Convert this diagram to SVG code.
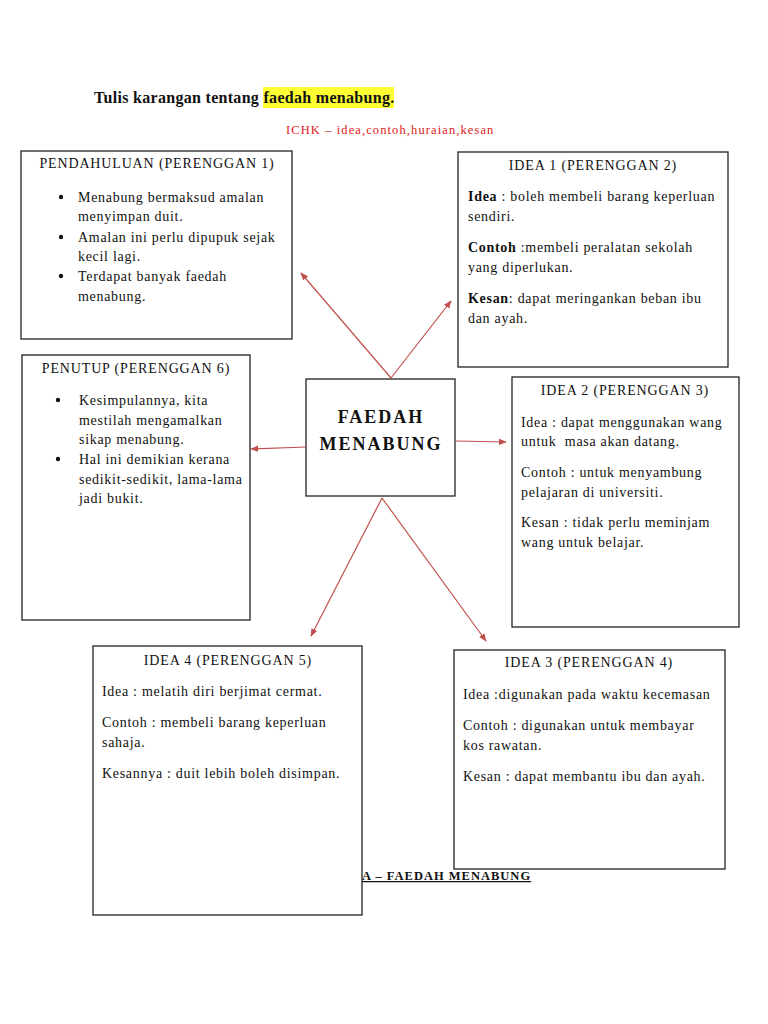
<svg xmlns="http://www.w3.org/2000/svg" width="768" height="1024" viewBox="0 0 768 1024">
<defs>
<style>
text{font-family:"Liberation Serif","Times New Roman",serif;fill:#111}
.b{font-size:14px;letter-spacing:0.7px}
.h{font-size:14px;letter-spacing:0.85px;text-anchor:middle}
.bold{font-weight:bold}
.box{fill:#fff;stroke:#222;stroke-width:1.3}
.con{stroke:#c0504d;stroke-width:1.2;fill:none;marker-end:url(#ah)}
</style>
<marker id="ah" viewBox="0 0 10 10" refX="9" refY="5" markerWidth="8" markerHeight="8" markerUnits="userSpaceOnUse" orient="auto">
<path d="M0,1 L10,5 L0,9 z" fill="#c0504d"/>
</marker>
</defs>
<rect width="768" height="1024" fill="#fff"/>
<rect x="263" y="87" width="131" height="21" fill="#ffff33"/>
<text x="94" y="103" style="font-size:16px;font-weight:bold;letter-spacing:0.3px">Tulis karangan tentang faedah menabung.</text>
<text x="286" y="134" style="font-size:12.5px;letter-spacing:1.1px;fill:#e02020">ICHK – idea,contoh,huraian,kesan</text>
<text x="362" y="880" class="bold" style="font-size:12.5px;letter-spacing:1px;text-decoration:underline">A – FAEDAH MENABUNG</text>
<g id="connectors">
<line class="con" x1="391" y1="378" x2="301" y2="273"/>
<line class="con" x1="391" y1="378" x2="451" y2="301"/>
<line class="con" x1="306" y1="447" x2="251" y2="449"/>
<line class="con" x1="456" y1="441" x2="506" y2="442"/>
<line class="con" x1="382" y1="498" x2="311" y2="636"/>
<line class="con" x1="382" y1="498" x2="486" y2="641"/>
</g>
<g id="pendahuluan">
<rect class="box" x="21" y="151" width="271" height="188"/>
<text class="h" x="157" y="168">PENDAHULUAN (PERENGGAN 1)</text>
<circle cx="61" cy="197" r="2.2" fill="#111"/>
<circle cx="61" cy="237" r="2.2" fill="#111"/>
<circle cx="61" cy="276" r="2.2" fill="#111"/>
<text class="b" x="78" y="202">Menabung bermaksud amalan</text>
<text class="b" x="78" y="221">menyimpan duit.</text>
<text class="b" x="78" y="242">Amalan ini perlu dipupuk sejak</text>
<text class="b" x="78" y="261">kecil lagi.</text>
<text class="b" x="78" y="281">Terdapat banyak faedah</text>
<text class="b" x="78" y="301">menabung.</text>
</g>
<g id="idea1">
<rect class="box" x="458" y="152" width="270" height="215"/>
<text class="h" x="593" y="170">IDEA 1 (PERENGGAN 2)</text>
<text class="b" x="468" y="201"><tspan class="bold">Idea</tspan> : boleh membeli barang keperluan</text>
<text class="b" x="468" y="221">sendiri.</text>
<text class="b" x="468" y="252"><tspan class="bold">Contoh</tspan> :membeli peralatan sekolah</text>
<text class="b" x="468" y="272">yang diperlukan.</text>
<text class="b" x="468" y="303"><tspan class="bold">Kesan</tspan>: dapat meringankan beban ibu</text>
<text class="b" x="468" y="323">dan ayah.</text>
</g>
<g id="penutup">
<rect class="box" x="22" y="355" width="228" height="265"/>
<text class="h" x="136" y="373">PENUTUP (PERENGGAN 6)</text>
<circle cx="58" cy="400" r="2.2" fill="#111"/>
<circle cx="58" cy="459" r="2.2" fill="#111"/>
<text class="b" x="79" y="405">Kesimpulannya, kita</text>
<text class="b" x="79" y="425">mestilah mengamalkan</text>
<text class="b" x="79" y="444">sikap menabung.</text>
<text class="b" x="79" y="464">Hal ini demikian kerana</text>
<text class="b" x="79" y="484">sedikit-sedikit, lama-lama</text>
<text class="b" x="79" y="503">jadi bukit.</text>
</g>
<g id="center">
<rect class="box" x="306" y="379" width="149" height="117"/>
<text x="381" y="423" class="bold" style="font-size:18px;text-anchor:middle;letter-spacing:2px">FAEDAH</text>
<text x="381" y="450" class="bold" style="font-size:18px;text-anchor:middle;letter-spacing:2px">MENABUNG</text>
</g>
<g id="idea2">
<rect class="box" x="512" y="377" width="227" height="250"/>
<text class="h" x="625" y="395">IDEA 2 (PERENGGAN 3)</text>
<text class="b" x="521" y="427">Idea : dapat menggunakan wang</text>
<text class="b" x="521" y="446" style="white-space:pre">untuk  masa akan datang.</text>
<text class="b" x="521" y="477">Contoh : untuk menyambung</text>
<text class="b" x="521" y="497">pelajaran di universiti.</text>
<text class="b" x="521" y="527">Kesan : tidak perlu meminjam</text>
<text class="b" x="521" y="547">wang untuk belajar.</text>
</g>
<g id="idea4">
<rect class="box" x="93" y="646" width="269" height="269"/>
<text class="h" x="228" y="665">IDEA 4 (PERENGGAN 5)</text>
<text class="b" x="102" y="696">Idea : melatih diri berjimat cermat.</text>
<text class="b" x="102" y="727">Contoh : membeli barang keperluan</text>
<text class="b" x="102" y="747">sahaja.</text>
<text class="b" x="102" y="778">Kesannya : duit lebih boleh disimpan.</text>
</g>
<g id="idea3">
<rect class="box" x="454" y="650" width="271" height="219"/>
<text class="h" x="589" y="667">IDEA 3 (PERENGGAN 4)</text>
<text class="b" x="463" y="699">Idea :digunakan pada waktu kecemasan</text>
<text class="b" x="463" y="730">Contoh : digunakan untuk membayar</text>
<text class="b" x="463" y="750">kos rawatan.</text>
<text class="b" x="463" y="781">Kesan : dapat membantu ibu dan ayah.</text>
</g>
</svg>
